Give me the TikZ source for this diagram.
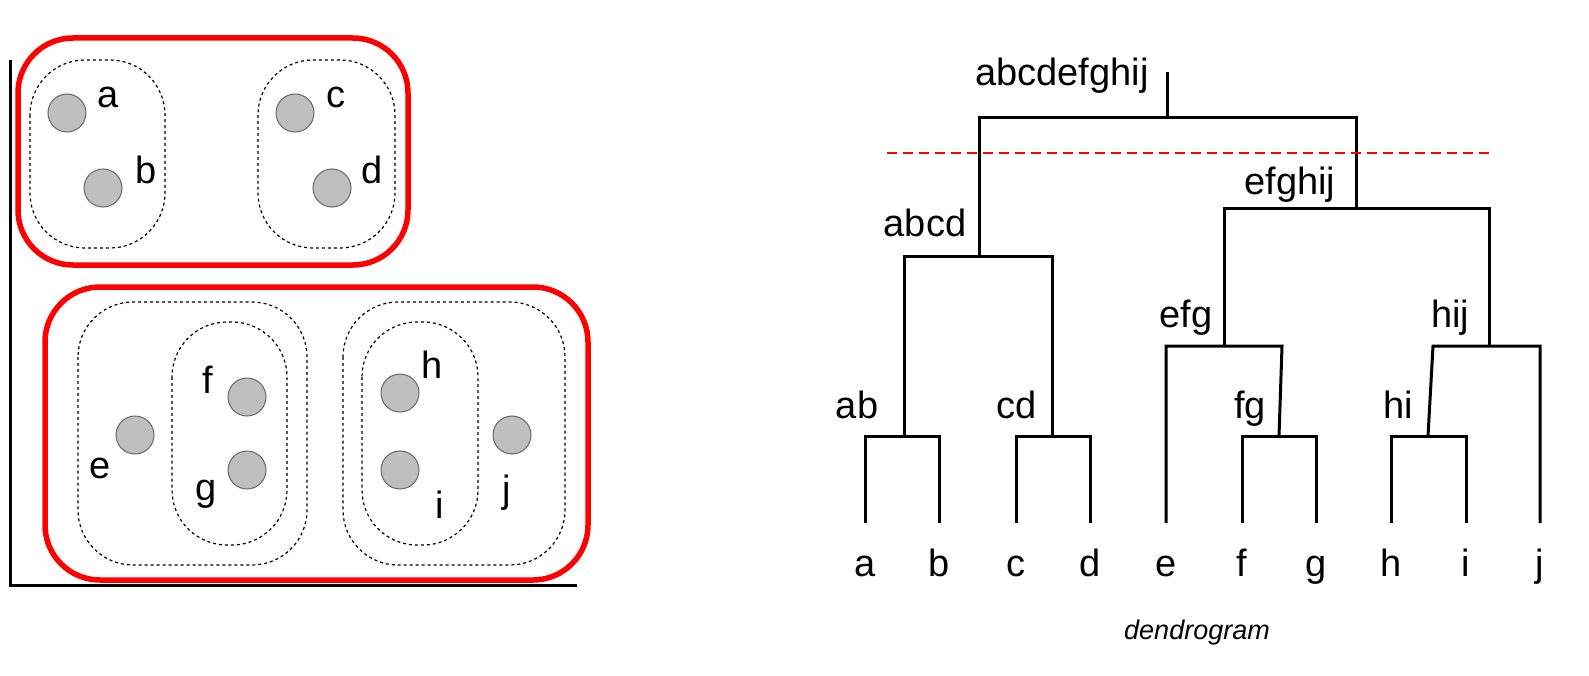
\documentclass[tikz,border=0pt]{standalone}
\usepackage{fontspec}
\setmainfont{Liberation Sans}
\begin{document}
\begin{tikzpicture}[x=1bp,y=-1bp,
  pt/.style={circle,draw=black!60,fill=black!25,minimum size=38bp,inner sep=0pt,line width=1bp},
  lab/.style={font=\fontsize{38bp}{38bp}\selectfont,inner sep=0pt},
  blab/.style={lab,anchor=base},
  red/.style={draw=red,line width=5.5bp,rounded corners=55bp},
  dsh/.style={draw,dashed,line width=1.2bp,rounded corners=55bp},
  br/.style={line width=3bp}]
\useasboundingbox (0,0) rectangle (1589,676);
% axes
\draw[line width=3bp] (10,60) -- (10,585) -- (577,585);
% clusters
\draw[red] (18,38) rectangle (408,265);
\draw[red] (45,287) rectangle (588,580);
\draw[dsh] (30,60) rectangle (165,248);
\draw[dsh] (258,60) rectangle (395,248);
\draw[dsh] (78,302) rectangle (307,565);
\draw[dsh] (172,322) rectangle (287,545);
\draw[dsh] (343,302) rectangle (565,565);
\draw[dsh] (362,322) rectangle (478,545);
% points
\node[pt] (pa) at (67,113) {}; \node[lab] at (108,97) {a};
\node[pt] (pb) at (103,188) {}; \node[lab] at (146,170) {b};
\node[pt] (pc) at (295,113) {}; \node[lab] at (336,97) {c};
\node[pt] (pd) at (332,188) {}; \node[lab] at (372,170) {d};
\node[pt] (pe) at (135,435) {}; \node[lab] at (100,468) {e};
\node[pt] (pf) at (247,397) {}; \node[lab] at (208,380) {f};
\node[pt] (pg) at (247,470) {}; \node[lab] at (206,494) {g};
\node[pt] (ph) at (400,393) {}; \node[lab] at (432,365) {h};
\node[pt] (pi) at (400,470) {}; \node[lab] at (440,505) {i};
\node[pt] (pj) at (512,435) {}; \node[lab] at (507,493) {j};
% dendrogram leaves
\foreach \n/\x in {a/865,b/939,c/1016,d/1090,e/1166,f/1242,g/1316,h/1391,i/1466,j/1540}{
  \coordinate (\n) at (\x,523);
  \node[blab] at (\x,576) {\n};
}
\coordinate (ab) at (904,436); \coordinate (cd) at (1052,436);
\coordinate (fg) at (1279,436); \coordinate (hi) at (1428,436);
\coordinate (efg) at (1224,346); \coordinate (hij) at (1489,346);
\coordinate (abcd) at (979,256); \coordinate (efghij) at (1356,208);
\coordinate (root) at (1167,118); \coordinate (top) at (1167,72);
\draw[br] (a) |- (ab) -| (b);
\draw[br] (c) |- (cd) -| (d);
\draw[br] (f) |- (fg) -| (g);
\draw[br] (h) |- (hi) -| (i);
\draw[br] (ab) |- (abcd) -| (cd);
\draw[br] (e) |- (efg) -- (1282,346) -- (fg);
\draw[br] (hi) -- (1433,346) -| (j);
\draw[br] (efg) |- (efghij) -| (hij);
\draw[br] (abcd) |- (root) -| (efghij);
\draw[br] (root) -- (top);
\draw[red,line width=2.2bp,dash pattern=on 10bp off 6bp] (887,153) -- (1492,153);
\node[blab] at (1062,86) {abcdefghij};
\node[blab] at (1290,194) {efghij};
\node[blab] at (925,236) {abcd};
\node[blab] at (1186,327) {efg};
\node[blab] at (1450,327) {hij};
\node[blab] at (857,418) {ab};
\node[blab] at (1017,418) {cd};
\node[blab] at (1250,418) {fg};
\node[blab] at (1398,418) {hi};
\node[font=\fontsize{27bp}{27bp}\selectfont\itshape] at (1197,633) {dendrogram};
\end{tikzpicture}
\end{document}
